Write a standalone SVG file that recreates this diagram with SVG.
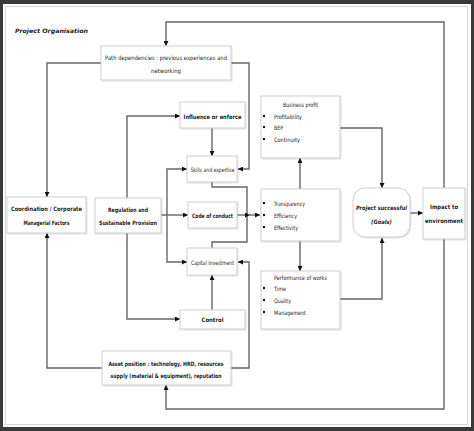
<svg xmlns="http://www.w3.org/2000/svg" width="474" height="431" viewBox="0 0 474 431">
<defs>
<marker id="ah" viewBox="0 0 10 10" refX="10" refY="5" markerWidth="5" markerHeight="5" markerUnits="userSpaceOnUse" orient="auto">
<path d="M0,0 L10,5 L0,10 z" fill="#111"/>
</marker>
<filter id="sh" x="-10%" y="-10%" width="130%" height="130%">
<feDropShadow dx="0.8" dy="0.8" stdDeviation="0.6" flood-color="#000" flood-opacity="0.15"/>
</filter>
</defs>
<style>
.box{fill:#fff;stroke:#cfcfcf;stroke-width:1;filter:url(#sh)}
.ln{fill:none;stroke:#666;stroke-width:1.4}
.ar{marker-end:url(#ah)}
text{font-family:"DejaVu Sans Condensed","Liberation Sans",sans-serif;fill:#222;font-size:6px}
.c{text-anchor:middle}
.b{font-weight:bold}
.i{font-style:italic}
</style>
<rect x="0" y="0" width="474" height="431" fill="#3a3a3a"/>
<rect x="3" y="4" width="468" height="423" fill="#fff"/>
<rect x="5.5" y="6.5" width="462" height="418" fill="none" stroke="#d6d6d6" stroke-width="1"/>
<text x="15" y="33" class="b i" font-size="9" textLength="73" lengthAdjust="spacingAndGlyphs">Project Organisation</text>

<g id="connectors">
<path class="ln ar" d="M444,188 V22 H166 V46"/>
<path class="ln ar" d="M101,63 H47 V197"/>
<path class="ln ar" d="M231,63 H249 V169 H238"/>
<path class="ln ar" d="M102,368 H47 V233"/>
<path class="ln ar" d="M231,368 H249 V262 H238"/>
<path class="ln ar" d="M444,239 V409 H166 V385"/>
<path class="ln ar" d="M127,198 V116 H180"/>
<path class="ln ar" d="M127,233 V319 H180"/>
<path class="ln ar" d="M161,215 H188"/>
<path class="ln ar" d="M167,215 V169 H187"/>
<path class="ln ar" d="M167,215 V262 H187"/>
<path class="ln ar" d="M212,128 V156"/>
<path class="ln ar" d="M212,310 V275"/>
<path class="ln" d="M212,182 V187 H247 V215"/>
<path class="ln" d="M212,248 V242 H247 V215"/>
<path class="ln ar" d="M237,215 H250"/>
<path class="ln ar" d="M248,215 H260"/>
<path class="ln ar" d="M300,189 V158"/>
<path class="ln ar" d="M300,241 V271"/>
<path class="ln ar" d="M340,128 H382 V188"/>
<path class="ln ar" d="M340,299 H382 V238"/>
<path class="ln ar" d="M410,213 H423"/>
</g>

<g id="path-dependencies">
<rect class="box" x="101" y="46" width="130" height="34"/>
<text x="166" y="60" class="c" font-size="7.5" textLength="122" lengthAdjust="spacingAndGlyphs">Path dependencies : previous experiences and</text>
<text x="166" y="73" class="c" font-size="7.5" textLength="30" lengthAdjust="spacingAndGlyphs">networking</text>
</g>

<g id="coordination">
<rect class="box" x="7" y="197" width="79" height="36"/>
<text x="46.5" y="211" class="c b" font-size="7.5" textLength="71" lengthAdjust="spacingAndGlyphs">Coordination / Corporate</text>
<text x="46.5" y="225" class="c b" font-size="7.5" textLength="46" lengthAdjust="spacingAndGlyphs">Managerial Factors</text>
</g>

<g id="regulation">
<rect class="box" x="95" y="198" width="66" height="35"/>
<text x="128" y="212" class="c b" font-size="7.5" textLength="40" lengthAdjust="spacingAndGlyphs">Regulation and</text>
<text x="128" y="225" class="c b" font-size="7.5" textLength="58" lengthAdjust="spacingAndGlyphs">Sustainable Provision</text>
</g>

<g id="influence">
<rect class="box" x="180" y="102" width="65" height="26"/>
<text x="212.5" y="118.5" class="c b" font-size="7.5" textLength="58" lengthAdjust="spacingAndGlyphs">Influence or enforce</text>
</g>

<g id="skills">
<rect class="box" x="187" y="156" width="50" height="26"/>
<text x="212.5" y="171.5" class="c" font-size="6.5" textLength="44" lengthAdjust="spacingAndGlyphs">Skills and expertise</text>
</g>

<g id="code-of-conduct">
<rect class="box" x="188" y="202" width="49" height="26"/>
<text x="212.5" y="217.5" class="c b" font-size="7.5" textLength="41" lengthAdjust="spacingAndGlyphs">Code of conduct</text>
</g>

<g id="capital">
<rect class="box" x="187" y="248" width="50" height="27"/>
<text x="212.5" y="264.5" class="c" font-size="6.5" textLength="43" lengthAdjust="spacingAndGlyphs">Capital investment</text>
</g>

<g id="control">
<rect class="box" x="180" y="310" width="65" height="19"/>
<text x="212.5" y="322" class="c b" font-size="7.5" textLength="22" lengthAdjust="spacingAndGlyphs">Control</text>
</g>

<g id="asset-position">
<rect class="box" x="102" y="351" width="129" height="34"/>
<text x="166" y="365.5" class="c b" font-size="7" textLength="115" lengthAdjust="spacingAndGlyphs">Asset position : technology, HRD, resources</text>
<text x="166" y="378" class="c b" font-size="7" textLength="111" lengthAdjust="spacingAndGlyphs">supply (material &amp; equipment), reputation</text>
</g>

<g id="business-profit">
<rect class="box" x="261" y="96" width="79" height="62"/>
<text x="300.5" y="106.5" class="c" font-size="6.5" textLength="35" lengthAdjust="spacingAndGlyphs">Business profit</text>
<circle cx="264" cy="116" r="1.2" fill="#111"/>
<circle cx="264" cy="127" r="1.2" fill="#111"/>
<circle cx="264" cy="139" r="1.2" fill="#111"/>
<text x="274" y="118.5" font-size="6.5" textLength="28" lengthAdjust="spacingAndGlyphs">Profitability</text>
<text x="274" y="129.5" font-size="6.5" textLength="9" lengthAdjust="spacingAndGlyphs">BEP</text>
<text x="274" y="141.5" font-size="6.5" textLength="26" lengthAdjust="spacingAndGlyphs">Continuity</text>
</g>

<g id="transparency">
<rect class="box" x="261" y="189" width="79" height="52"/>
<circle cx="264" cy="203" r="1.2" fill="#111"/>
<circle cx="264" cy="215" r="1.2" fill="#111"/>
<circle cx="264" cy="227" r="1.2" fill="#111"/>
<text x="274" y="205.5" font-size="6.5" textLength="31" lengthAdjust="spacingAndGlyphs">Transparency</text>
<text x="274" y="217.5" font-size="6.5" textLength="23" lengthAdjust="spacingAndGlyphs">Efficiency</text>
<text x="274" y="229.5" font-size="6.5" textLength="24" lengthAdjust="spacingAndGlyphs">Effectivity</text>
</g>

<g id="performance">
<rect class="box" x="261" y="271" width="79" height="58"/>
<text x="300.5" y="279.5" class="c" font-size="6.5" textLength="53" lengthAdjust="spacingAndGlyphs">Performance of works</text>
<circle cx="264" cy="288" r="1.2" fill="#111"/>
<circle cx="264" cy="300" r="1.2" fill="#111"/>
<circle cx="264" cy="312" r="1.2" fill="#111"/>
<text x="274" y="290.5" font-size="6.5" textLength="12" lengthAdjust="spacingAndGlyphs">Time</text>
<text x="274" y="302.5" font-size="6.5" textLength="17" lengthAdjust="spacingAndGlyphs">Quality</text>
<text x="274" y="314.5" font-size="6.5" textLength="32" lengthAdjust="spacingAndGlyphs">Management</text>
</g>

<g id="project-successful">
<rect class="box" x="353" y="188" width="57" height="49" rx="12" ry="12"/>
<text x="381.5" y="209.5" class="c b i" font-size="7.5" textLength="51" lengthAdjust="spacingAndGlyphs">Project successful</text>
<text x="381.5" y="224" class="c b i" font-size="7.5" textLength="21" lengthAdjust="spacingAndGlyphs">(Goals)</text>
</g>

<g id="impact">
<rect class="box" x="423" y="188" width="42" height="51"/>
<text x="444" y="208.5" class="c b" font-size="7.5" textLength="28" lengthAdjust="spacingAndGlyphs">Impact to</text>
<text x="444" y="223" class="c b" font-size="7.5" textLength="38" lengthAdjust="spacingAndGlyphs">environment</text>
</g>
</svg>
